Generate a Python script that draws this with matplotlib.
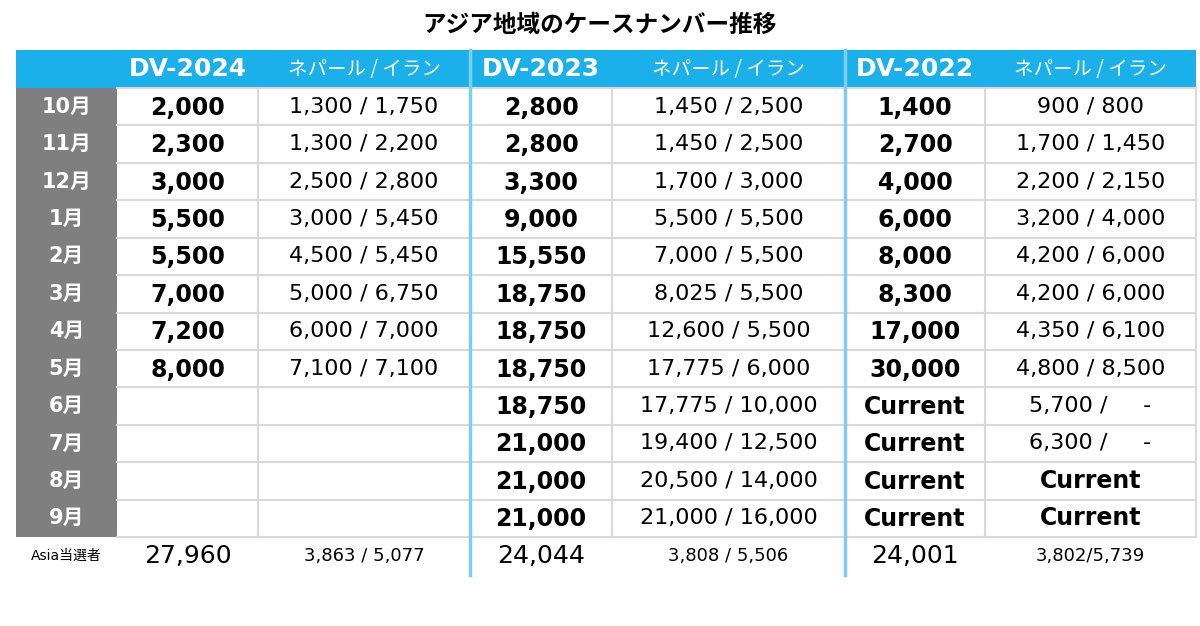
import matplotlib
matplotlib.use("Agg")
import matplotlib.pyplot as plt
from matplotlib.patches import Rectangle

plt.rcParams['font.family'] = ['DejaVu Sans', 'Noto Sans CJK JP']
CJK = ['Noto Sans CJK JP', 'DejaVu Sans']

title = "アジア地域のケースナンバー推移"
months = ["10月","11月","12月","1月","2月","3月","4月","5月","6月","7月","8月","9月"]
years = ["DV-2024", "DV-2023", "DV-2022"]
sub_header = "ネパール / イラン"
asia = [
    ["2,000","2,300","3,000","5,500","5,500","7,000","7,200","8,000","","","",""],
    ["2,800","2,800","3,300","9,000","15,550","18,750","18,750","18,750","18,750","21,000","21,000","21,000"],
    ["1,400","2,700","4,000","6,000","8,000","8,300","17,000","30,000","Current","Current","Current","Current"],
]
nep_iran = [
    ["1,300 / 1,750","1,300 / 2,200","2,500 / 2,800","3,000 / 5,450","4,500 / 5,450","5,000 / 6,750","6,000 / 7,000","7,100 / 7,100","","","",""],
    ["1,450 / 2,500","1,450 / 2,500","1,700 / 3,000","5,500 / 5,500","7,000 / 5,500","8,025 / 5,500","12,600 / 5,500","17,775 / 6,000","17,775 / 10,000","19,400 / 12,500","20,500 / 14,000","21,000 / 16,000"],
    ["900 / 800","1,700 / 1,450","2,200 / 2,150","3,200 / 4,000","4,200 / 6,000","4,200 / 6,000","4,350 / 6,100","4,800 / 8,500","5,700 /     -","6,300 /     -","Current","Current"],
]
footer_label = "Asia当選者"
winners = ["27,960", "24,044", "24,001"]
winners_split = ["3,863 / 5,077", "3,808 / 5,506", "3,802/5,739"]

W, H = 1200, 626
fig = plt.figure(figsize=(W/100, H/100), dpi=100)
ax = fig.add_axes([0, 0, 1, 1])
ax.set_xlim(0, W); ax.set_ylim(H, 0); ax.axis('off')

blue = "#1bb0ea"; sep = "#7fcdf0"; gray = "#7f7f7f"; grid = "#d9d9d9"
x_edges = [16, 117, 258, 470, 612, 845, 985, 1196]
y_head = (50, 88)
row_h = (537 - 88) / 12

ax.text(600, 25, title, ha='center', va='center', fontsize=17, fontweight='bold', family=CJK)
ax.add_patch(Rectangle((x_edges[0], y_head[0]), x_edges[-1]-x_edges[0], y_head[1]-y_head[0], color=blue, lw=0))
ax.add_patch(Rectangle((x_edges[0], 88), x_edges[1]-x_edges[0], 12*row_h, color=gray, lw=0))

for i in range(3):
    xa, xb, xc = x_edges[1+2*i], x_edges[2+2*i], x_edges[3+2*i]
    ax.text((xa+xb)/2, 69, years[i], ha='center', va='center', fontsize=18, fontweight='bold', color='white')
    ax.text((xb+xc)/2, 69, sub_header, ha='center', va='center', fontsize=14, color='white', family=CJK)

for r in range(13):
    y = 88 + r*row_h
    ax.plot([x_edges[1], x_edges[-1]], [y, y], color=grid, lw=1.5, zorder=1)
for x in [x_edges[2], x_edges[4], x_edges[6], x_edges[-1]]:
    ax.plot([x, x], [88, 537], color=grid, lw=1.5, zorder=1)
for x in [x_edges[3], x_edges[5]]:
    ax.plot([x, x], [50, 575], color=sep, lw=2.5, zorder=3)

for r, m in enumerate(months):
    yc = 88 + (r+0.5)*row_h
    ax.text((x_edges[0]+x_edges[1])/2, yc, m, ha='center', va='center', fontsize=15, fontweight='bold', color='white')
    for i in range(3):
        xa, xb, xc = x_edges[1+2*i], x_edges[2+2*i], x_edges[3+2*i]
        ax.text((xa+xb)/2, yc+1, asia[i][r], ha='center', va='center', fontsize=17, fontweight='bold')
        s = nep_iran[i][r]
        bold = s == "Current"
        ax.text((xb+xc)/2, yc, s, ha='center', va='center', fontsize=17 if bold else 16,
                fontweight='bold' if bold else 'normal')

yf = 556
ax.text((x_edges[0]+x_edges[1])/2, yf, footer_label, ha='center', va='center', fontsize=10)
for i in range(3):
    xa, xb, xc = x_edges[1+2*i], x_edges[2+2*i], x_edges[3+2*i]
    ax.text((xa+xb)/2, yf, winners[i], ha='center', va='center', fontsize=18)
    ax.text((xb+xc)/2, yf, winners_split[i], ha='center', va='center', fontsize=13)

fig.savefig("out.png", dpi=100)
